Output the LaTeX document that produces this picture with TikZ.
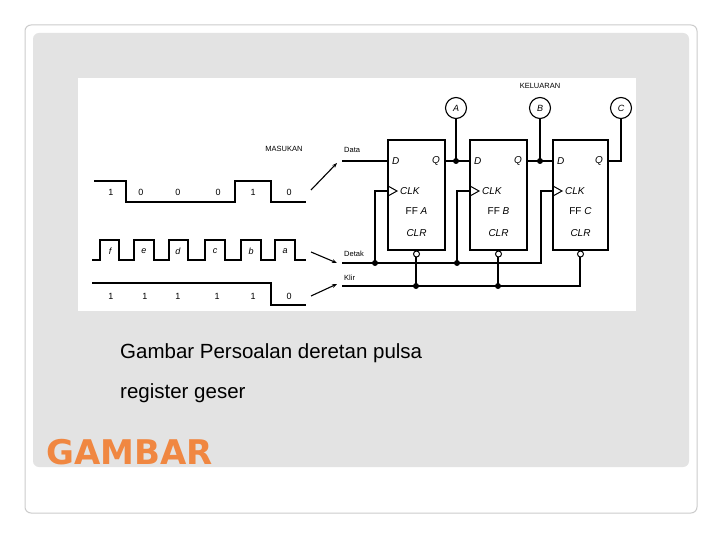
\documentclass[tikz,border=0pt]{standalone}
\usepackage{fontspec}
\setmainfont{Liberation Sans}
\newfontfamily\dejavu{DejaVu Sans}
\usetikzlibrary{arrows.meta}
\definecolor{gam}{RGB}{240,135,65}
\begin{document}
\begin{tikzpicture}[x=1pt,y=-1pt,
  w/.style={line width=1.8pt},
  ln/.style={line width=1.1pt},
  ff/.style={draw,line width=1.8pt},
  sm/.style={font=\fontsize{10}{11}\selectfont\itshape,inner sep=0pt},
  lb/.style={font=\fontsize{9}{10}\selectfont,inner sep=0pt},
  ml/.style={font=\fontsize{7.5}{8}\selectfont,inner sep=0pt},
  dot/.style={circle,fill,inner sep=0pt,minimum size=6pt},
  outc/.style={circle,draw,line width=1.1pt,minimum size=21pt,inner sep=0pt,font=\fontsize{9}{10}\selectfont\itshape},
  arr/.style={line width=1.1pt,-{Stealth[length=5pt]}}]
\useasboundingbox (0,0) rectangle (720,540);
\fill[white] (0,0) rectangle (720,540);
\draw[gray!40,line width=1pt,rounded corners=6pt] (25,25) rectangle (697,513);
\fill[gray!22,rounded corners=6pt] (33,33) rectangle (689,467);
\fill[white] (78,78) rectangle (636,311);
% waveforms
\draw[w] (94,181)--(126,181)--(126,202)--(235,202)--(235,181)--(271,181)--(271,202)--(306,202);
\foreach \x/\t in {111/1,141/0,178/0,218/0,253/1,289/0} \node[lb] at (\x,192) {\t};
\draw[w] (92,260)--(100,260)--(100,240)--(119,240)--(119,260)--(134,260)--(134,240)--(154,240)--(154,260)--(169,260)--(169,240)--(188,240)--(188,260)--(205,260)--(205,240)--(225,240)--(225,260)--(241,260)--(241,240)--(261,240)--(261,260)--(275,260)--(275,240)--(295,240)--(295,260)--(306,260);
\foreach \x/\t in {110/f,144/e,178/d,215/c,251/b,285/a} \node[sm,font=\fontsize{9}{10}\selectfont\itshape] at (\x,251) {\t};
\draw[w] (92,283)--(271,283)--(271,305)--(306,305);
\foreach \x/\t in {111/1,145/1,178/1,217/1,253/1,289/0} \node[lb] at (\x,296) {\t};
\node[ml] (mas) at (284,149) {MASUKAN};
\coordinate (d0) at (311,190); \coordinate (d1) at (337,163);
\coordinate (c0) at (311,252); \coordinate (c1) at (337,263);
\coordinate (k0) at (311,296); \coordinate (k1) at (337,284);
\draw[arr] (d0)--(d1); \draw[arr] (c0)--(c1); \draw[arr] (k0)--(k1);
% flip-flops
\foreach \n/\a/\b/\L in {A/388/445/A,B/470/527/B,C/553/608/C}{
  \node[ff,minimum width=\b-\a,minimum height=110,inner sep=0pt] (f\n) at ({(\a+\b)/2},195) {};
  \node[sm,anchor=west] at (\a+4,161) {D};
  \node[sm,anchor=east] at (\b-5,161) {Q};
  \node[sm,anchor=west] at (\a+12,191) {CLK};
  \node[lb,font=\fontsize{10}{11}\selectfont] at ({(\a+\b)/2},211) {FF \textit{\L}};
  \node[sm] at ({(\a+\b)/2},233) {CLR};
  \draw[line width=1pt] (\a,186)--(\a+9,191)--(\a,196);
  \draw[line width=1pt,fill=white] ({(\a+\b)/2},254) circle (3pt);
}
\node[outc] (oA) at (456,108) {A};
\node[outc] (oB) at (540,108) {B};
\node[outc] (oC) at (621,108) {C};
\node[ml] at (540,86) {KELUARAN};
\node[ml,anchor=west] at (344,150) {Data};
\node[ml,anchor=west] at (344,254) {Detak};
\node[ml,anchor=west] at (344,278) {Klir};
\draw[ln] (342,161)--(388,161);
\draw[ln] (445,161)--(470,161); \draw[ln] (527,161)--(553,161);
\draw[ln] (oA)--(456,161); \draw[ln] (oB)--(540,161);
\draw[ln] (608,161)--(621,161)--(oC);
\node[dot] at (456,161) {}; \node[dot] at (540,161) {};
\draw[ln] (342,263)--(541,263)--(541,191)--(553,191);
\draw[ln] (375,263)--(375,191)--(388,191);
\draw[ln] (457,263)--(457,191)--(470,191);
\node[dot] at (375,263) {}; \node[dot] at (457,263) {};
\draw[ln] (342,286)--(580,286)--(580,257);
\draw[ln] (416,286)--(416,257); \draw[ln] (498,286)--(498,257);
\node[dot] at (416,286) {}; \node[dot] at (498,286) {};
% caption
\node[anchor=west,inner sep=0pt,font=\fontsize{20.5}{24}\selectfont] at (120,353) {Gambar Persoalan deretan pulsa};
\node[anchor=west,inner sep=0pt,font=\fontsize{20.5}{24}\selectfont] at (120,393) {register geser};
\node[anchor=base west,inner sep=0pt,font=\dejavu\fontsize{34}{38}\selectfont\bfseries,text=gam] at (46,464) {GAMBAR};
\end{tikzpicture}
\end{document}
